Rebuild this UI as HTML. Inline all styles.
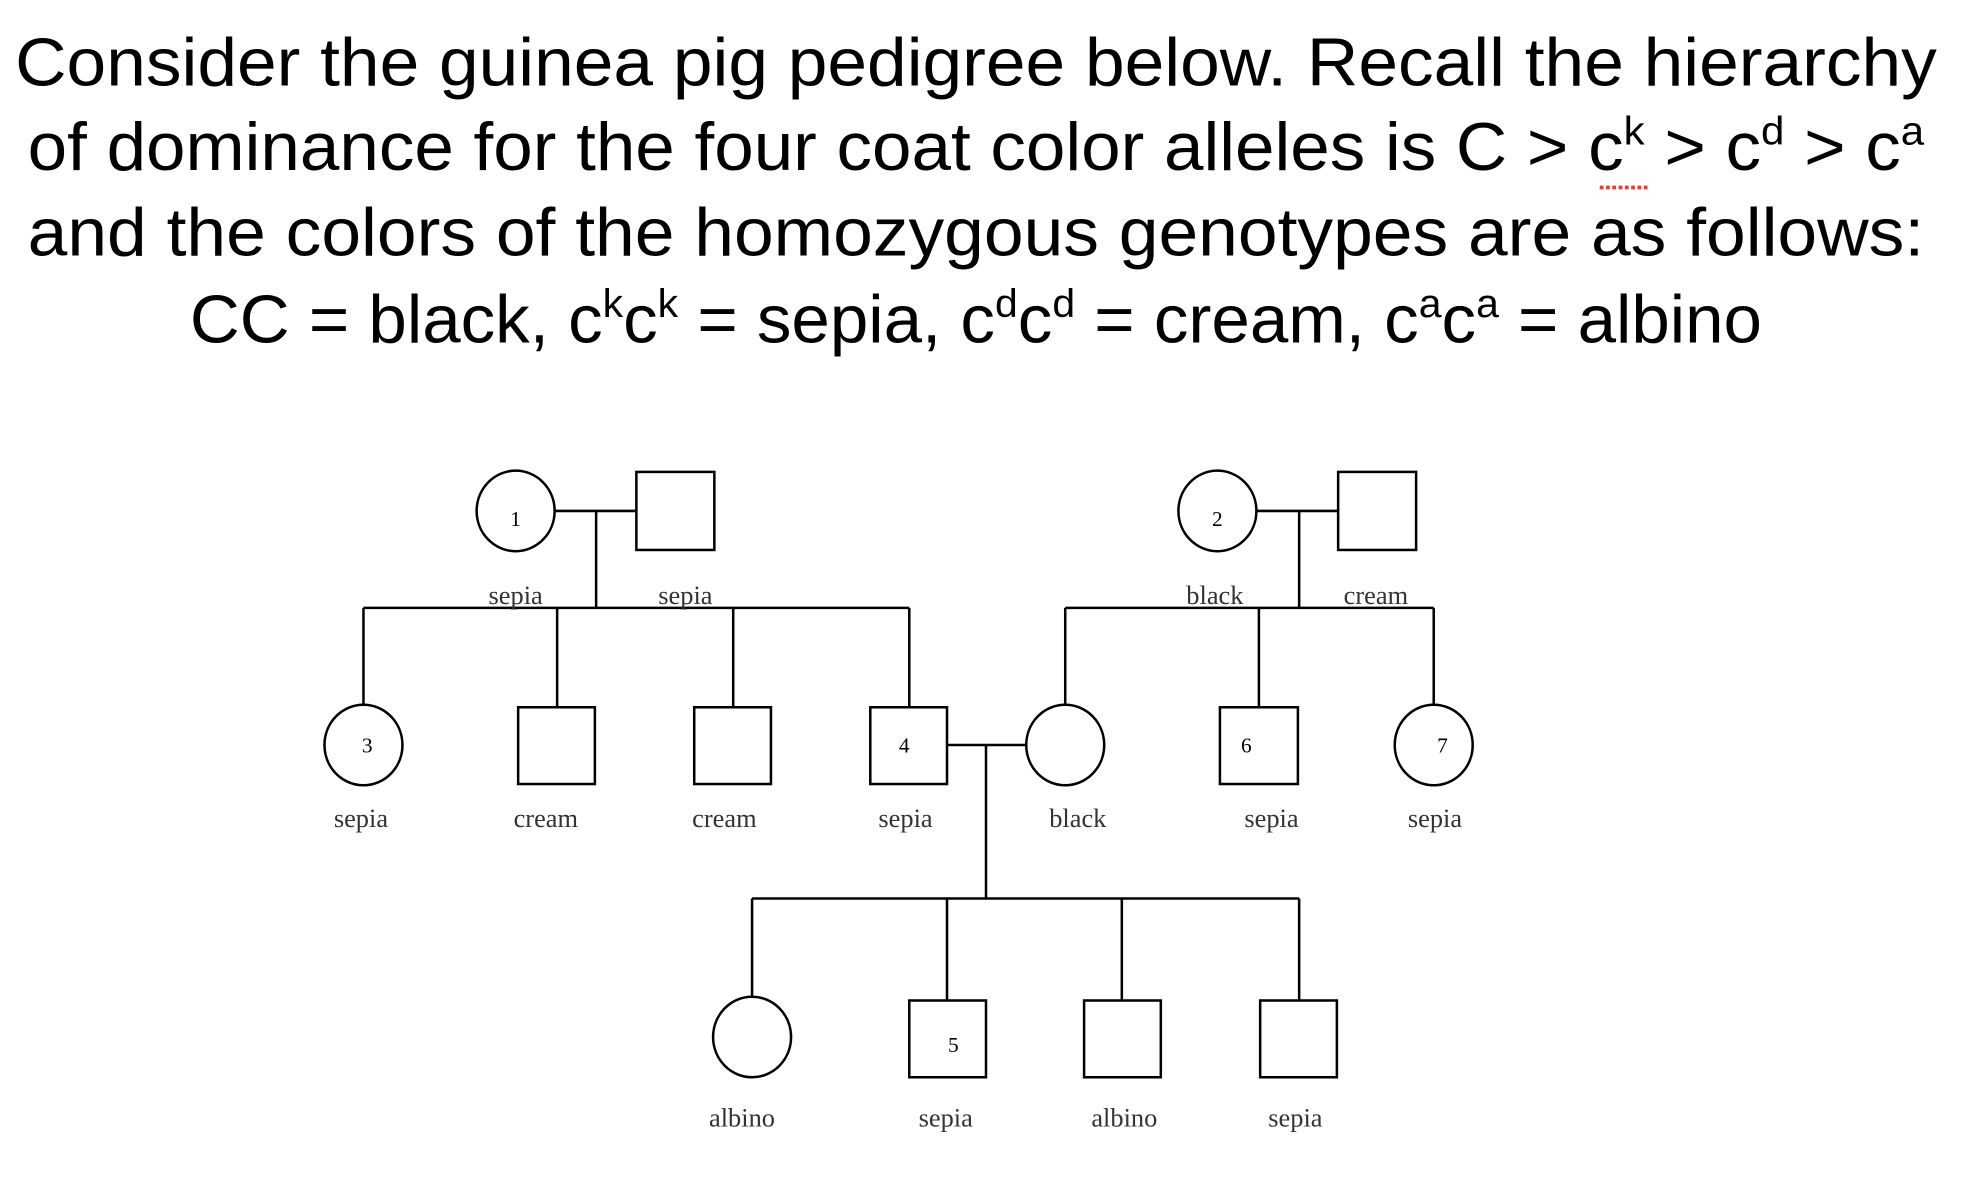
<!DOCTYPE html>
<html><head><meta charset="utf-8"><style>html,body{margin:0;padding:0;background:#fff}svg{display:block}</style></head>
<body>
<svg width="1972" height="1188" viewBox="0 0 1568 944" preserveAspectRatio="none" xmlns="http://www.w3.org/2000/svg">
<g font-family="'Liberation Sans', sans-serif" font-size="54" fill="#000" text-anchor="middle">
<text x="776" y="68" textLength="1528" lengthAdjust="spacingAndGlyphs">Consider the guinea pig pedigree below. Recall the hierarchy</text>
<text x="776" y="135" textLength="1508" lengthAdjust="spacingAndGlyphs">of dominance for the four coat color alleles is C &gt; c<tspan font-size="32" dy="-20">k</tspan><tspan dy="20"> &gt; c</tspan><tspan font-size="32" dy="-20">d</tspan><tspan dy="20"> &gt; c</tspan><tspan font-size="32" dy="-20">a</tspan></text>
<text x="776" y="203" textLength="1508" lengthAdjust="spacingAndGlyphs">and the colors of the homozygous genotypes are as follows:</text>
<text x="776" y="272" textLength="1250" lengthAdjust="spacingAndGlyphs">CC = black, c<tspan font-size="32" dy="-20">k</tspan><tspan dy="20">c</tspan><tspan font-size="32" dy="-20">k</tspan><tspan dy="20"> = sepia, c</tspan><tspan font-size="32" dy="-20">d</tspan><tspan dy="20">c</tspan><tspan font-size="32" dy="-20">d</tspan><tspan dy="20"> = cream, c</tspan><tspan font-size="32" dy="-20">a</tspan><tspan dy="20">c</tspan><tspan font-size="32" dy="-20">a</tspan><tspan dy="20"> = albino</tspan></text>
</g>
<line x1="1272" y1="149" x2="1312" y2="149" stroke="#e04030" stroke-width="3" stroke-dasharray="3,2"/>
<g fill="#fff" stroke="#000" stroke-width="2">
<path d="M441 406H506M474 406V483M289 483H723M289 483V561M443 483V562M583 483V562M723 483V562" fill="none"/>
<path d="M999 406H1064M1033 406V483M847 483H1140M847 483V561M1001 483V562M1140 483V561" fill="none"/>
<path d="M753 592H816M784 592V714M598 714H1033M598 714V793M753 714V795M892 714V795M1033 714V795" fill="none"/>
<ellipse cx="410" cy="406" rx="31" ry="32"/>
<rect x="506" y="375" width="62" height="62"/>
<ellipse cx="968" cy="406" rx="31" ry="32"/>
<rect x="1064" y="375" width="62" height="62"/>
<ellipse cx="289" cy="592" rx="31" ry="32"/>
<rect x="412" y="562" width="61" height="61"/>
<rect x="552" y="562" width="61" height="61"/>
<rect x="692" y="562" width="61" height="61"/>
<ellipse cx="847" cy="592" rx="31" ry="32"/>
<rect x="970" y="562" width="62" height="61"/>
<ellipse cx="1140" cy="592" rx="31" ry="32"/>
<ellipse cx="598" cy="824" rx="31" ry="32"/>
<rect x="723" y="795" width="61" height="61"/>
<rect x="862" y="795" width="61" height="61"/>
<rect x="1002" y="795" width="61" height="61"/>
</g>
<g font-family="'Liberation Serif', serif" font-size="21" fill="#333" text-anchor="middle">
<text x="410" y="480">sepia</text><text x="545" y="480">sepia</text>
<text x="966" y="480">black</text><text x="1094" y="480">cream</text>
<text x="287" y="657">sepia</text><text x="434" y="657">cream</text><text x="576" y="657">cream</text><text x="720" y="657">sepia</text>
<text x="857" y="657">black</text><text x="1011" y="657">sepia</text><text x="1141" y="657">sepia</text>
<text x="590" y="895">albino</text><text x="752" y="895">sepia</text><text x="894" y="895">albino</text><text x="1030" y="895">sepia</text>
<g font-size="17" fill="#000">
<text x="410" y="418">1</text><text x="968" y="418">2</text><text x="292" y="598">3</text><text x="719" y="598">4</text>
<text x="758" y="836">5</text><text x="991" y="598">6</text><text x="1147" y="598">7</text>
</g>
</g>
</svg>
</body></html>
